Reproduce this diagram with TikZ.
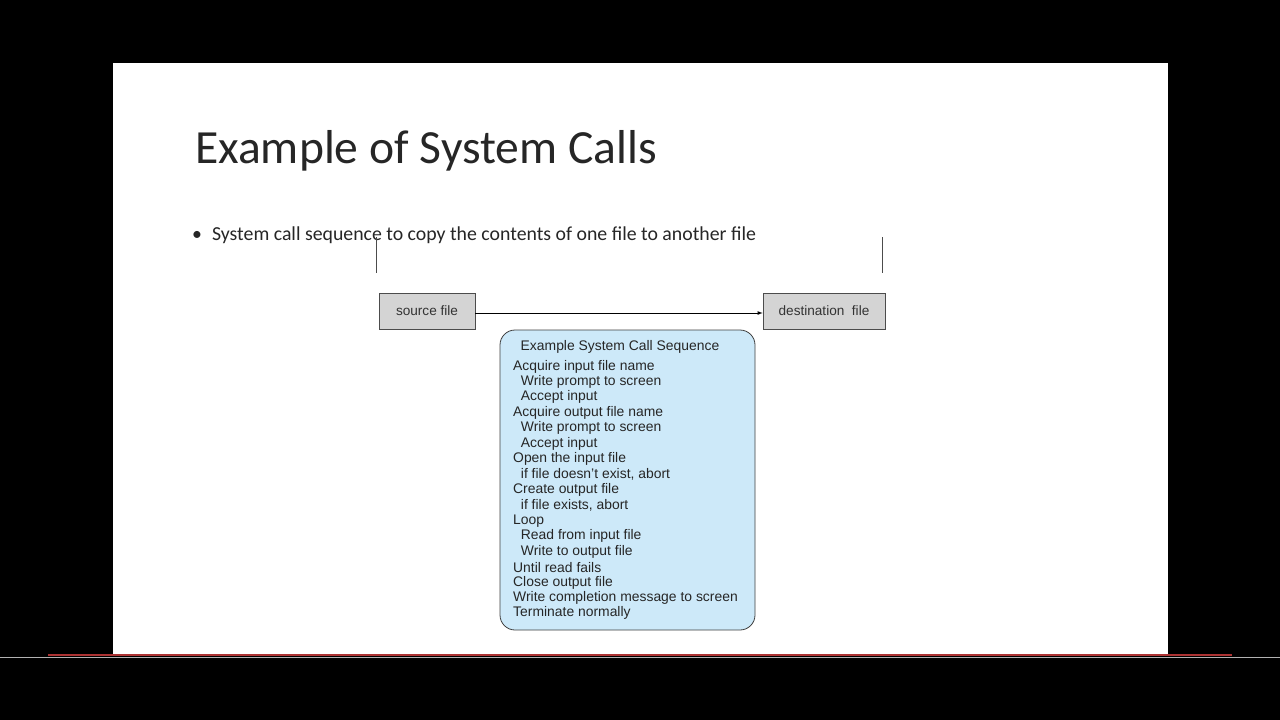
\documentclass[tikz,border=0pt]{standalone}
\usepackage{fontspec}
\setmainfont{Liberation Sans}
\newfontfamily\calib{Carlito}
\definecolor{seqblue}{HTML}{CDE9F9}
\begin{document}
\begin{tikzpicture}[x=1pt,y=-1pt,
  filebox/.style={draw=black!70,fill=black!17,line width=0.6pt,minimum height=36pt,inner sep=0pt,font=\fontsize{13.6}{13.6}\selectfont,text=black!80},
  seqline/.style={anchor=west,inner sep=0pt,font=\fontsize{13.9}{13.9}\selectfont,text=black!85}]
\fill[black] (0,0) rectangle (1280,720);
\useasboundingbox (0,0) rectangle (1280,720);
\fill[white] (113,63) rectangle (1168,655);
\draw[red!60!black!80,line width=1.5pt] (48,655) -- (1232,655);
\draw[white!70!black,line width=0.5pt] (0,657.5) -- (1280,657.5);
\node[anchor=base west,inner sep=0pt,font=\calib\fontsize{47.6}{47.6}\selectfont,text=black!85] (title) at (195,163) {Example of System Calls};
\node[anchor=base west,inner sep=0pt,font=\calib\fontsize{19.8}{19.8}\selectfont,text=black!85] (bul) at (192,240) {\textbullet\hspace{10pt}System call sequence to copy the contents of one file to another file};
\coordinate (l1a) at (376,237); \coordinate (l1b) at (376,273);
\coordinate (l2a) at (882,237); \coordinate (l2b) at (882,273);
\draw[black!70,line width=0.8pt] (l1a) -- (l1b);
\draw[black!70,line width=0.8pt] (l2a) -- (l2b);
\node[filebox,minimum width=96pt] (src) at (427,311) {source file};
\node[filebox,minimum width=122pt] (dst) at (824,311) {destination\ \ file};
\draw[-latex,line width=0.8pt] ([yshift=-2pt]src.east) -- ([yshift=-2pt]dst.west);
\draw[black!75,line width=0.8pt,fill=seqblue,rounded corners=15pt] (500,330) rectangle (755,630);
\node[inner sep=0pt,font=\fontsize{13.9}{13.9}\selectfont,text=black!85] (hd) at (620,346.5) {Example System Call Sequence};
\foreach \t [count=\i] in {Acquire input file name,\ \ Write prompt to screen,\ \ Accept input,Acquire output file name,\ \ Write prompt to screen,\ \ Accept input,Open the input file,\ \ if file doesn't exist{,} abort,Create output file,\ \ if file exists{,} abort,Loop,\ \ Read from input file,\ \ Write to output file,Until read fails,Close output file,Write completion message to screen,Terminate normally}
  \node[seqline] (s\i) at (513,{366.5+15.43*(\i-1)}) {\t};
\end{tikzpicture}
\end{document}
